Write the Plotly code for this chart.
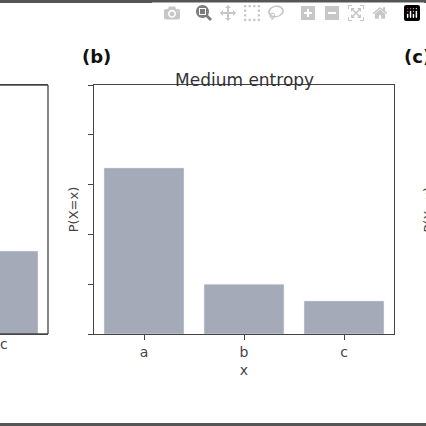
import plotly.graph_objects as go

W = H = 426
cats = ["a", "b", "c"]
probs_a = [0.333, 0.333, 0.333]
probs_b = [0.667, 0.2, 0.133]
yticks = [0, 0.2, 0.4, 0.6, 0.8, 1.0]

bar_color = "#a4aab7"
axc = "#444444"
font = dict(family="DejaVu Sans", color="#333333")

fig = go.Figure()
fig.add_trace(go.Bar(x=cats, y=probs_a, marker_color=bar_color, width=0.8,
                     xaxis="x", yaxis="y", showlegend=False))
fig.add_trace(go.Bar(x=cats, y=probs_b, marker_color=bar_color, width=0.8,
                     xaxis="x2", yaxis="y2", showlegend=False))

ydom = [(H - 334) / H, (H - 85) / H]
common_y = dict(range=[0, 1], tickvals=yticks, showticklabels=False, ticks="outside",
                ticklen=5, tickcolor=axc, showline=True, linecolor=axc, linewidth=1.3,
                mirror=True, showgrid=False, zeroline=False, domain=ydom)
common_x = dict(ticks="outside", ticklen=5, tickcolor=axc, showline=True, linecolor=axc,
                linewidth=1.3, mirror=True, showgrid=False, tickfont=dict(size=14, color="#444"))

fig.update_layout(
    width=W, height=H, margin=dict(l=0, r=0, t=0, b=0),
    paper_bgcolor="white", plot_bgcolor="white", font=font, bargap=0.2,
    xaxis=dict(common_x, domain=[0, 48 / W], range=[2.02, 2.5], showticklabels=False),
    yaxis=dict(common_y, anchor="x", showline=False, ticks=""),
    xaxis2=dict(common_x, domain=[94 / W, 394 / W], range=[-0.5, 2.5], anchor="y2",
                title=dict(text="x", font=dict(size=14, color="#444"), standoff=6)),
    yaxis2=dict(common_y, anchor="x2",
                title=dict(text="P(X=x)", font=dict(size=13, color="#444"), standoff=6)),
)

# right/top/bottom frame of panel (a)
fig.add_shape(type="line", xref="paper", yref="paper", x0=48 / W, x1=48 / W,
              y0=ydom[0], y1=ydom[1], line=dict(color=axc, width=1.3))
fig.add_shape(type="line", xref="paper", yref="paper", x0=0, x1=48 / W,
              y0=ydom[1], y1=ydom[1], line=dict(color=axc, width=1.3))
fig.add_shape(type="line", xref="paper", yref="paper", x0=0, x1=48 / W,
              y0=ydom[0], y1=ydom[0], line=dict(color=axc, width=1.3))

fig.add_annotation(text="Medium entropy", x=244 / W, y=(H - 68) / H, xref="paper", yref="paper",
                   showarrow=False, font=dict(size=17, color="#333"))
fig.add_annotation(text="<b>(b)</b>", x=80 / W, y=(H - 44) / H, xref="paper", yref="paper",
                   showarrow=False, font=dict(size=18, color="#111"))
fig.add_annotation(text="<b>(c)</b>", x=402 / W, y=(H - 44) / H, xref="paper", yref="paper",
                   showarrow=False, xanchor="left", font=dict(size=18, color="#111"))
fig.add_annotation(text="P(X=x)", x=418 / W, y=(H - 210) / H, xref="paper", yref="paper",
                   showarrow=False, textangle=-90, xanchor="left", font=dict(size=13, color="#444"))
fig.add_annotation(text="c", x=-2 / W, y=(H - 354) / H, xref="paper", yref="paper",
                   showarrow=False, font=dict(size=14, color="#444"))

# outer border lines
for yv in [1.5 / H, 1 - 1.5 / H]:
    fig.add_shape(type="line", xref="paper", yref="paper", x0=0, x1=1, y0=yv, y1=yv,
                  line=dict(color="#555", width=3))

fig.write_html("out.html")

# drop the default page margin so the figure fills the window
with open("out.html") as f:
    html = f.read()
html = html.replace("<head>", "<head><style>body{margin:0;overflow:hidden}</style>", 1)
with open("out.html", "w") as f:
    f.write(html)
